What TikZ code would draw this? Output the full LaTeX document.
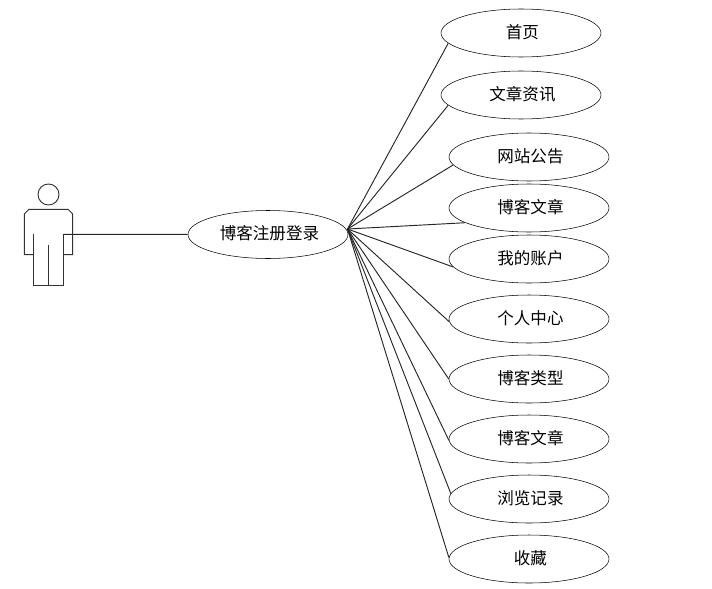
\documentclass[tikz,border=0pt]{standalone}
\usepackage{fontspec}
\usetikzlibrary{shapes.geometric}
\newfontfamily\cjk{Noto Sans CJK SC}
\tikzset{
  uc/.style={draw=black,ellipse,minimum width=120pt,minimum height=36pt,inner sep=0pt,text height=10pt,text depth=2pt,font=\cjk\fontsize{12.4}{14}\selectfont,text=black,execute at begin node=\hspace*{2.2pt}},
  conn/.style={draw=black!85,line width=0.7pt},
  actorline/.style={draw=black!80,line width=0.7pt,line join=miter}
}
\begin{document}
\begin{tikzpicture}[x=0.75pt,y=-0.75pt]
\useasboundingbox (0,0) rectangle (712,588);
\fill[white] (0,0) rectangle (712,588);
\node[uc] (main) at (268,234.5) {博客注册登录};
\node[uc] (a) at (521,33) {首页};
\node[uc] (b) at (521,95) {文章资讯};
\node[uc] (c) at (529,157) {网站公告};
\node[uc] (d) at (529,208) {博客文章};
\node[uc] (e) at (529,259) {我的账户};
\node[uc] (f) at (529,319) {个人中心};
\node[uc] (g) at (529,379) {博客类型};
\node[uc] (h) at (529,439) {博客文章};
\node[uc] (i) at (529,499) {浏览记录};
\node[uc] (j) at (529,559) {收藏};
\coordinate (hub) at (347.5,229);
\foreach \n/\ang in {a/188.9,b/188.7,c/186,d/193.6,e/186,f/182.4,g/180,h/181.2,i/176.4,j/179}
  \draw[conn] (hub) -- (\n.\ang);
% actor
\node[draw=black!80,circle,minimum size=15.75pt,inner sep=0pt,line width=0.7pt] (head) at (48.5,194.5) {};
\draw[actorline] (33.7,234.3) -- (33.7,285) -- (63.3,285) -- (63.3,234.3);
\draw[actorline] (48.5,244.7) -- (48.5,285);
\draw[actorline] (33.7,254.7) -- (24.3,254.7) -- (24.3,214) -- (29,209.3) -- (68,209.3) -- (72.7,214) -- (72.7,254.7) -- (63.3,254.7);
\coordinate (hand) at (63.3,234.3);
\draw[conn] (hand) -- (main);
\end{tikzpicture}
\end{document}
